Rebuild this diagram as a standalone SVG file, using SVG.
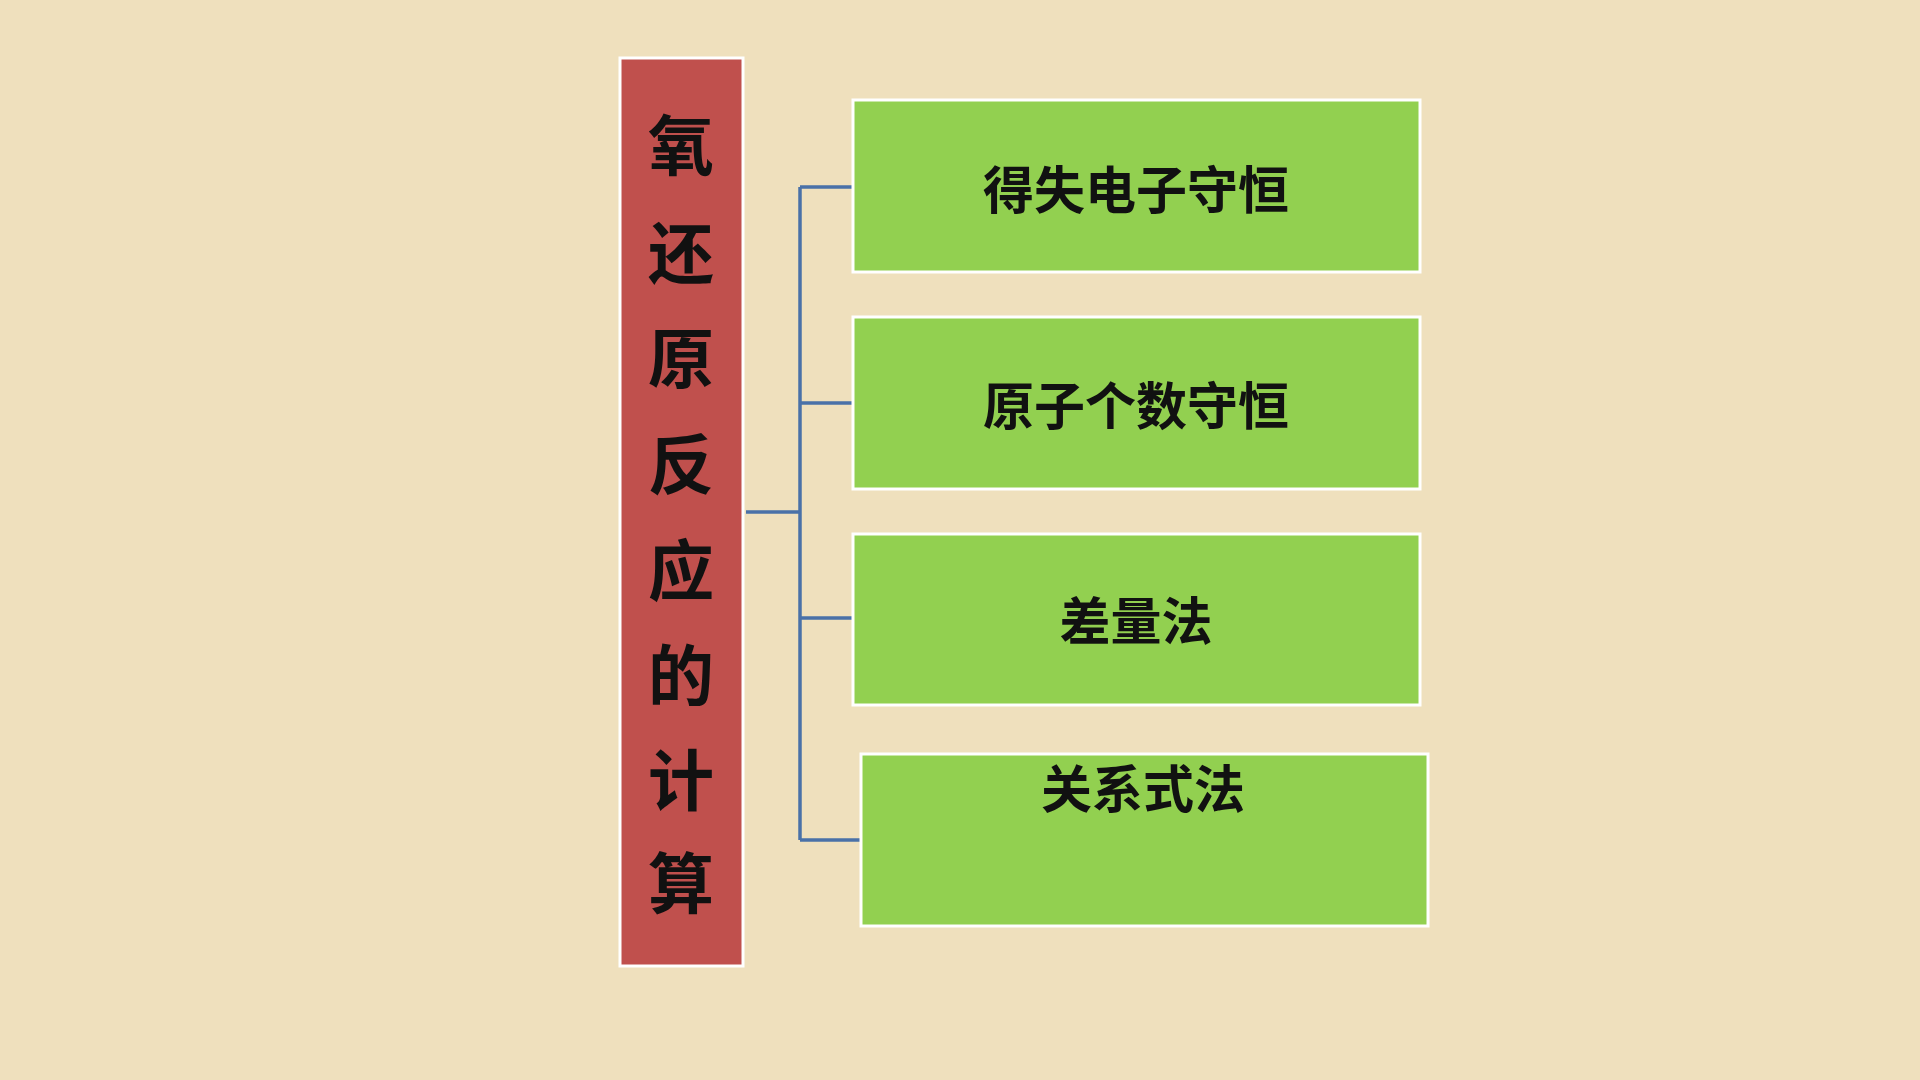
<svg xmlns="http://www.w3.org/2000/svg" width="1920" height="1080" viewBox="0 0 1920 1080">
<style>
.g{fill:#92d050;stroke:#ffffff;stroke-width:3}
.t{font-family:"Noto Sans CJK SC","Noto Sans",sans-serif;font-weight:bold;fill:#111;text-anchor:middle;dominant-baseline:central}
.c{fill:none;stroke:#4a71a8;stroke-width:3.5}
</style>
<rect width="1920" height="1080" fill="#efe0bd"/>
<g id="main">
<rect x="620" y="58" width="123" height="908" fill="#c0504d" stroke="#ffffff" stroke-width="3"/>
<text class="t" font-size="66" x="681"><tspan x="681" y="141">氧</tspan><tspan x="681" y="249">还</tspan><tspan x="681" y="354">原</tspan><tspan x="681" y="460">反</tspan><tspan x="681" y="566">应</tspan><tspan x="681" y="671">的</tspan><tspan x="681" y="776">计</tspan><tspan x="681" y="879">算</tspan></text>
</g>
<g id="connectors">
<path class="c" d="M746 512 H800 M800 187 V840 M800 187 H853 M800 403 H853 M800 618 H853 M800 840 H861"/>
</g>
<g id="n1"><rect class="g" x="853" y="100" width="567" height="172"/><text class="t" font-size="51" x="1136" y="187">得失电子守恒</text></g>
<g id="n2"><rect class="g" x="853" y="317" width="567" height="172"/><text class="t" font-size="51" x="1136" y="403">原子个数守恒</text></g>
<g id="n3"><rect class="g" x="853" y="534" width="567" height="171"/><text class="t" font-size="51" x="1136" y="618">差量法</text></g>
<g id="n4"><rect class="g" x="861" y="754" width="567" height="172"/><text class="t" font-size="51" x="1143" y="786">关系式法</text></g>
</svg>
